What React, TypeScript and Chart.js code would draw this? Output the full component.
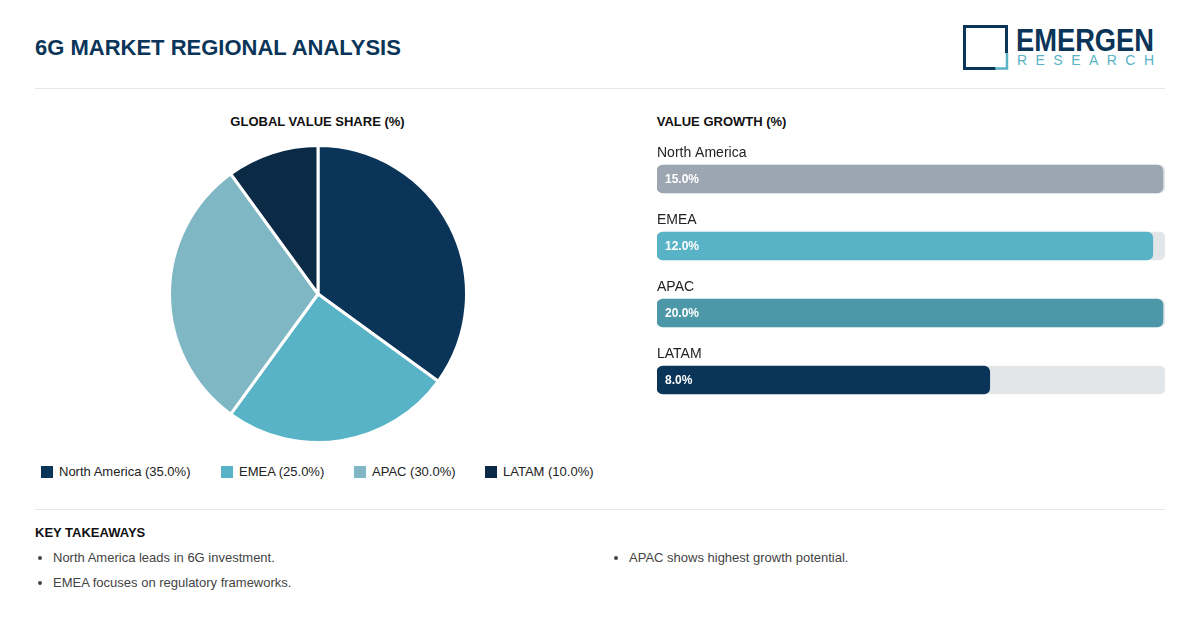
import { useEffect, useRef } from "react"
import { Chart, registerables } from "chart.js"

Chart.register(...registerables)

const regions = ["North America", "EMEA", "APAC", "LATAM"]
const shareValues = [35, 25, 30, 10]
const growthValues = [15, 12, 20, 8]
// how far each bar is filled on its track
const fillValues = [99.6, 97.6, 99.6, 65.5]
const trackValues = [100, 100, 100, 100]
const shareColors = ["#0a3558", "#57b3c5", "#7fb7c5", "#0a2a45"]
const growthColors = ["#9ca6b2", "#57b3c5", "#4c98a9", "#0a3558"]
const takeawaysLeft = ["North America leads in 6G investment.", "EMEA focuses on regulatory frameworks."]
const takeawaysRight = ["APAC shows highest growth potential."]

const FONT = '"Liberation Sans", Arial, sans-serif'
const NAVY = "#0a3558"
const legendLefts = [41, 221, 354, 485]

const barText = {
  id: "barText",
  afterDatasetsDraw(chart: Chart) {
    const { ctx } = chart
    const bars = chart.getDatasetMeta(0).data
    ctx.save()
    ctx.textBaseline = "middle"
    ctx.textAlign = "left"
    bars.forEach((bar, i) => {
      ctx.font = `14px ${FONT}`
      ctx.fillStyle = "#222222"
      ctx.fillText(regions[i], chart.chartArea.left, bar.y - 26)
      ctx.font = `bold 12px ${FONT}`
      ctx.fillStyle = "#ffffff"
      ctx.fillText(growthValues[i].toFixed(1) + "%", chart.chartArea.left + 8, bar.y + 1)
    })
    ctx.restore()
  },
}

function ShareChart() {
  const ref = useRef<HTMLCanvasElement>(null)
  useEffect(() => {
    if (!ref.current) return
    const chart = new Chart(ref.current, {
      type: "pie",
      data: {
        labels: regions,
        datasets: [
          {
            data: shareValues,
            backgroundColor: shareColors,
            borderColor: "#ffffff",
            borderWidth: 3,
          },
        ],
      },
      options: {
        responsive: false,
        animation: false,
        plugins: { legend: { display: false }, tooltip: { enabled: false } },
      },
    })
    return () => chart.destroy()
  }, [])
  return <canvas ref={ref} width={300} height={300} style={{ position: "absolute", left: 168, top: 144 }} />
}

function GrowthChart() {
  const ref = useRef<HTMLCanvasElement>(null)
  useEffect(() => {
    if (!ref.current) return
    const chart = new Chart(ref.current, {
      type: "bar",
      data: {
        labels: regions,
        datasets: [
          {
            data: fillValues,
            backgroundColor: growthColors,
            borderRadius: 6,
            borderSkipped: false,
            barThickness: 28,
            grouped: false,
            order: 1,
          },
          {
            data: trackValues,
            backgroundColor: "#e2e6e9",
            borderRadius: 6,
            borderSkipped: false,
            barThickness: 28,
            grouped: false,
            order: 2,
          },
        ],
      },
      options: {
        indexAxis: "y",
        responsive: false,
        animation: false,
        layout: { padding: { top: 6.5, bottom: 0.5 } },
        scales: {
          x: { display: false, min: 0, max: 100 },
          y: { display: false },
        },
        plugins: { legend: { display: false }, tooltip: { enabled: false } },
      },
      plugins: [barText],
    })
    return () => chart.destroy()
  }, [])
  return <canvas ref={ref} width={508} height={275} style={{ position: "absolute", left: 657, top: 139 }} />
}

function Logo() {
  return (
    <svg width={200} height={56} viewBox="0 0 200 56" style={{ position: "absolute", left: 960, top: 20 }}>
      <path d="M46.5 6.5H4.5V48.5H36" fill="none" stroke={NAVY} strokeWidth={3} />
      <path d="M46.5 5V33" fill="none" stroke={NAVY} strokeWidth={3} />
      <path d="M47 33V48.5H35" fill="none" stroke="#57b3c5" strokeWidth={2.5} />
      <text x={56} y={31} fontFamily={FONT} fontWeight="bold" fontSize={31} fill={NAVY} textLength={138} lengthAdjust="spacingAndGlyphs">
        EMERGEN
      </text>
      <text x={57} y={45} fontFamily={FONT} fontSize={14} fill="#57b3c5" textLength={137}>
        RESEARCH
      </text>
    </svg>
  )
}

const rule = (top: number) => (
  <div style={{ position: "absolute", left: 35, width: 1130, top, height: 1, background: "#e5e7eb" }} />
)

function Bullets({ items, left }: { items: string[]; left: number }) {
  return (
    <ul style={{ position: "absolute", left, top: 545, margin: 0, padding: "0 0 0 18px", fontSize: 13, color: "#444444" }}>
      {items.map((t) => (
        <li key={t} style={{ height: 25, lineHeight: "25px" }}>
          {t}
        </li>
      ))}
    </ul>
  )
}

export default function App() {
  return (
    <div style={{ position: "fixed", left: 0, top: 0, width: 1200, height: 620, background: "#ffffff", fontFamily: FONT, overflow: "hidden" }}>
      <div style={{ position: "absolute", left: 35, top: 35, fontSize: 22, fontWeight: "bold", color: NAVY, lineHeight: "26px" }}>
        6G MARKET REGIONAL ANALYSIS
      </div>
      <Logo />
      {rule(88)}
      <div style={{ position: "absolute", left: 117.5, width: 400, top: 114, textAlign: "center", fontSize: 13, fontWeight: "bold", color: "#111111", lineHeight: "15px" }}>
        GLOBAL VALUE SHARE (%)
      </div>
      <ShareChart />
      {regions.map((r, i) => (
        <div key={r} style={{ position: "absolute", left: legendLefts[i], top: 464, display: "flex", alignItems: "center", fontSize: 13, color: "#222222", lineHeight: "16px", whiteSpace: "nowrap" }}>
          <span style={{ width: 12, height: 12, marginRight: 6, background: shareColors[i] }} />
          {`${r} (${shareValues[i].toFixed(1)}%)`}
        </div>
      ))}
      <div style={{ position: "absolute", left: 656.7, top: 114, fontSize: 13, fontWeight: "bold", color: "#111111", lineHeight: "15px" }}>
        VALUE GROWTH (%)
      </div>
      <GrowthChart />
      {rule(509)}
      <div style={{ position: "absolute", left: 35, top: 525, fontSize: 13, fontWeight: "bold", color: "#111111", lineHeight: "15px" }}>
        KEY TAKEAWAYS
      </div>
      <Bullets items={takeawaysLeft} left={35} />
      <Bullets items={takeawaysRight} left={611} />
    </div>
  )
}
